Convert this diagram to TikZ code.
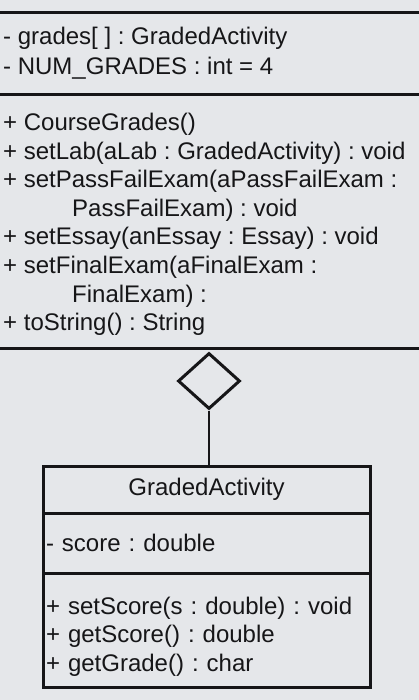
\documentclass[tikz,border=0pt]{standalone}
\usepackage{fontspec}
\setmainfont{Liberation Sans}
\usepackage{xcolor}
\definecolor{umlpaper}{RGB}{229,231,234}
\definecolor{umlink}{RGB}{22,22,24}
\usetikzlibrary{positioning,shapes.geometric}
\tikzset{
  uml text/.style={text=umlink, align=left, inner sep=0pt, font=\fontsize{24}{28.6}\selectfont\frenchspacing},
  uml part/.style={draw=umlink, line width=3pt, outer sep=0pt, minimum width=327pt, inner xsep=3pt, inner ysep=0pt, text width=321pt, align=left, text=umlink, font=\fontsize{24}{28.5}\selectfont\frenchspacing},
  uml rule/.style={draw=umlink, line width=3pt},
  uml link/.style={draw=umlink, line width=2pt},
  uml agg/.style={draw=umlink, diamond, line width=3pt, inner sep=0pt, minimum width=62pt, minimum height=56pt, fill=umlpaper},
}
\begin{document}
\begin{tikzpicture}[x=1pt, y=-1pt]
  \fill[umlpaper] (0,0) rectangle (419,700);
  \useasboundingbox (0,0) rectangle (419,700);
  % CourseGrades (cut off at the edges)
  \foreach \y in {13,95,348}
    \draw[uml rule] (-10,\y) -- (429,\y);
  \node[uml text, font=\fontsize{24}{30}\selectfont\frenchspacing, anchor=north west] (cg attr) at (3,27)
    {- grades[ ] : GradedActivity\\- NUM\_GRADES : int = 4};
  \node[uml text, anchor=north west] (cg ops) at (3,113)
    {+ CourseGrades()\\
     + setLab(aLab : GradedActivity) : void\\
     + setPassFailExam(aPassFailExam :\\
     \hspace*{69pt}PassFailExam) : void\\
     + setEssay(anEssay : Essay) : void\\
     + setFinalExam(aFinalExam :\\
     \hspace*{69pt}FinalExam) :\\
     + toString() : String};
  % aggregation
  \node[uml agg] (agg) at (209,381) {};
  % GradedActivity
  \node[uml part, align=center, minimum height=47pt] (ga name) at (206.5,489.5) {GradedActivity};
  \node[uml part, minimum height=60pt, below=0pt of ga name] (ga attr) {- score : double};
  \node[uml part, minimum height=114pt, below=0pt of ga attr] (ga ops)
    {\rule{0pt}{30pt}+ setScore(s : double) : void\\+ getScore() : double\\+ getGrade() : char};
  \draw[uml link] (agg.south) -- (agg.south |- ga name.north);
\end{tikzpicture}
\end{document}
